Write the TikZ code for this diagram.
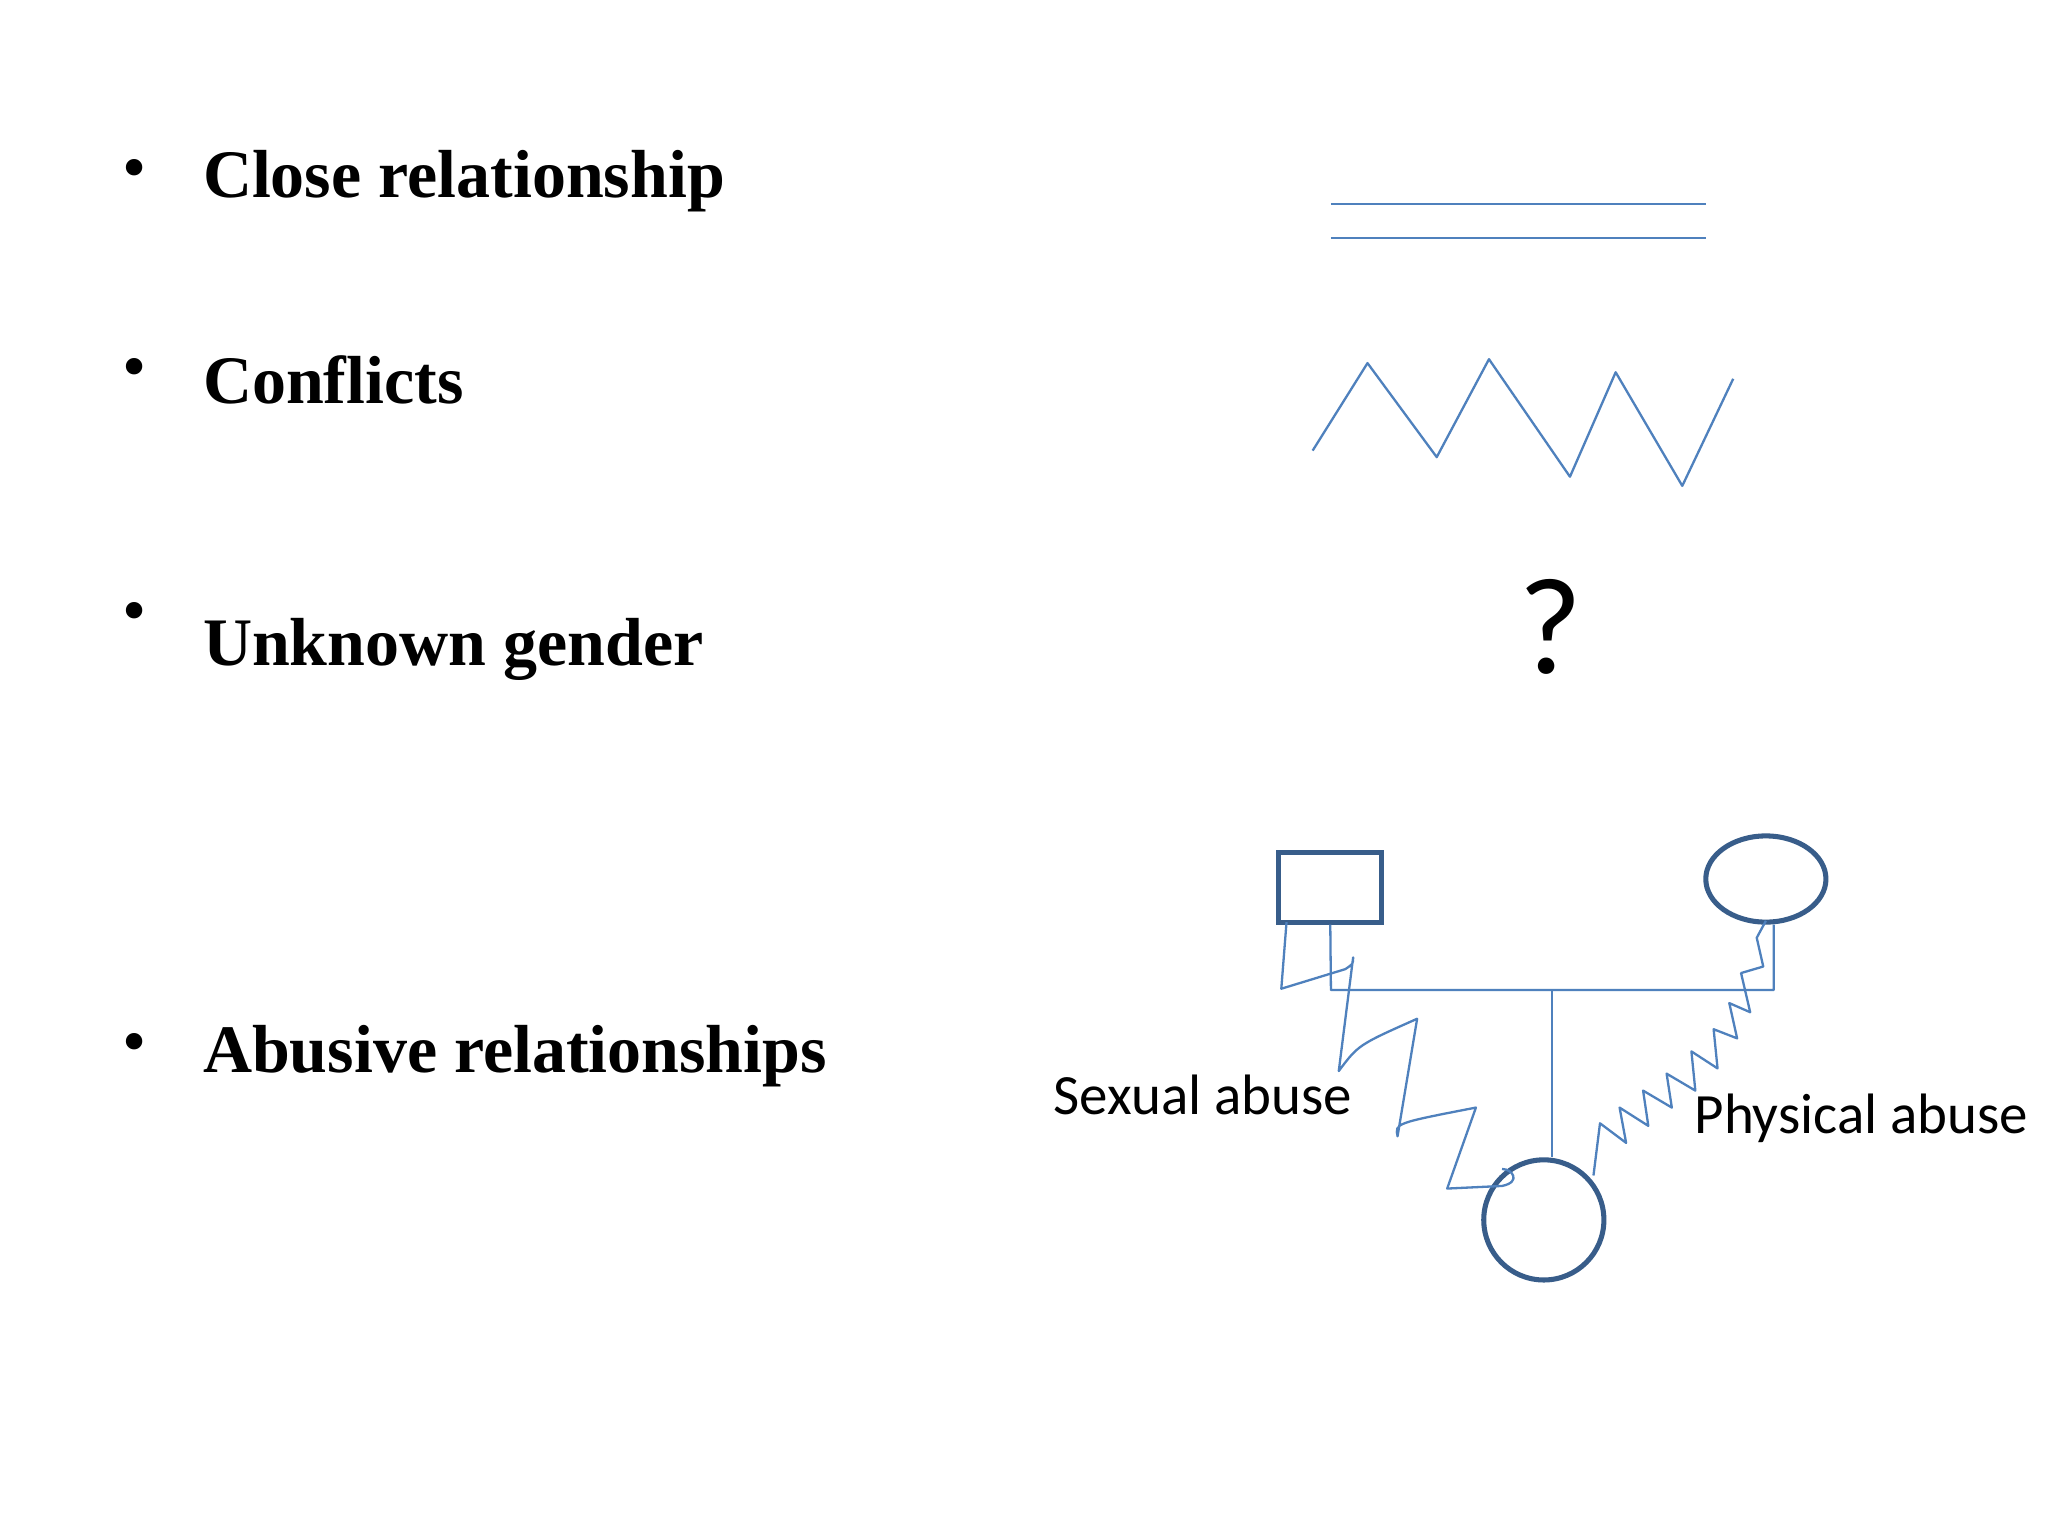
\documentclass[tikz,border=0pt]{standalone}
\usepackage{fontspec}
\usetikzlibrary{shapes.geometric}
\setmainfont{Liberation Serif}
\newfontfamily\lblfont{Carlito}
\definecolor{thinc}{RGB}{79,129,189}
\definecolor{thickc}{RGB}{56,93,138}
\begin{document}
\begin{tikzpicture}[x=0.01cm,y=-0.01cm,
  item/.style={anchor=west,font=\fontsize{14.8pt}{17pt}\selectfont\bfseries},
  bul/.style={font=\fontsize{15pt}{17pt}\selectfont},
  ln/.style={draw=thinc,line width=0.5pt,line join=round},
  sym/.style={draw=thickc,line width=1.1pt},
  lbl/.style={font=\lblfont\fontsize{12.4pt}{14pt}\selectfont}]
\useasboundingbox[fill=white] (0,0) rectangle (1568,1176);
\node[bul] (b1) at (103,134) {•};
\node[item] (t1) at (143,139) {Close relationship};
\node[bul] (b2) at (103,286) {•};
\node[item] (t2) at (143,291) {Conflicts};
\node[bul] (b3) at (103,473) {•};
\node[item] (t3) at (143,497) {Unknown gender};
\node[bul] (b4) at (103,803) {•};
\node[item] (t4) at (143,809) {Abusive relationships};
% close relationship
\draw[ln] (1019,156) -- (1306,156);
\draw[ln] (1019,182) -- (1306,182);
% conflicts
\draw[ln] (1005,345) -- (1047,278) -- (1100,350) -- (1140,275) -- (1202,365) -- (1237,285) -- (1288,372) -- (1327,290);
% unknown gender
\node[font=\lblfont\fontsize{30pt}{34pt}\selectfont] (q) at (1187,480) {?};
% family
\node[sym,rectangle,minimum width=79*0.01cm,minimum height=53*0.01cm] (sq) at (1018.5,679.5) {};
\node[sym,ellipse,minimum width=92*0.01cm,minimum height=66*0.01cm,inner sep=0pt] (mo) at (1352,673) {};
\node[sym,circle,minimum size=92*0.01cm,inner sep=0pt] (ch) at (1182,934) {};
\coordinate (hl) at (1019,758);
\coordinate (hr) at (1358,758);
\coordinate (hm) at (1188,758);
\draw[ln] (sq.south) -- (hl) -- (hr) -- (mo.south -| hr);
\draw[ln] (hm) -- (ch.north -| hm);
% sexual abuse
\draw[ln] (985,706) -- (981,757) -- (1030,742) .. controls (1036,738) .. (1036,733) -- (1025,820) .. controls (1040,800) .. (1085,780) -- (1070,870) .. controls (1068,860) .. (1130,848) -- (1108,910) -- (1150,908) .. controls (1165,905) and (1158,895) .. (1150,895);
% physical abuse
\draw[ln] (1220,900) -- (1225,860) -- (1245,875) -- (1240,848) -- (1262,862) -- (1258,835) -- (1280,848) -- (1276,822) -- (1298,835) -- (1295,805) -- (1315,818) -- (1312,788) -- (1330,795) -- (1324,768) -- (1340,775) -- (1333,745) -- (1350,740) -- (1345,718) -- (1352,705);
\node[lbl] (sa) at (921,838) {Sexual abuse};
\node[lbl,anchor=west] (pa) at (1285,856) {Physical abuse};
\end{tikzpicture}
\end{document}
